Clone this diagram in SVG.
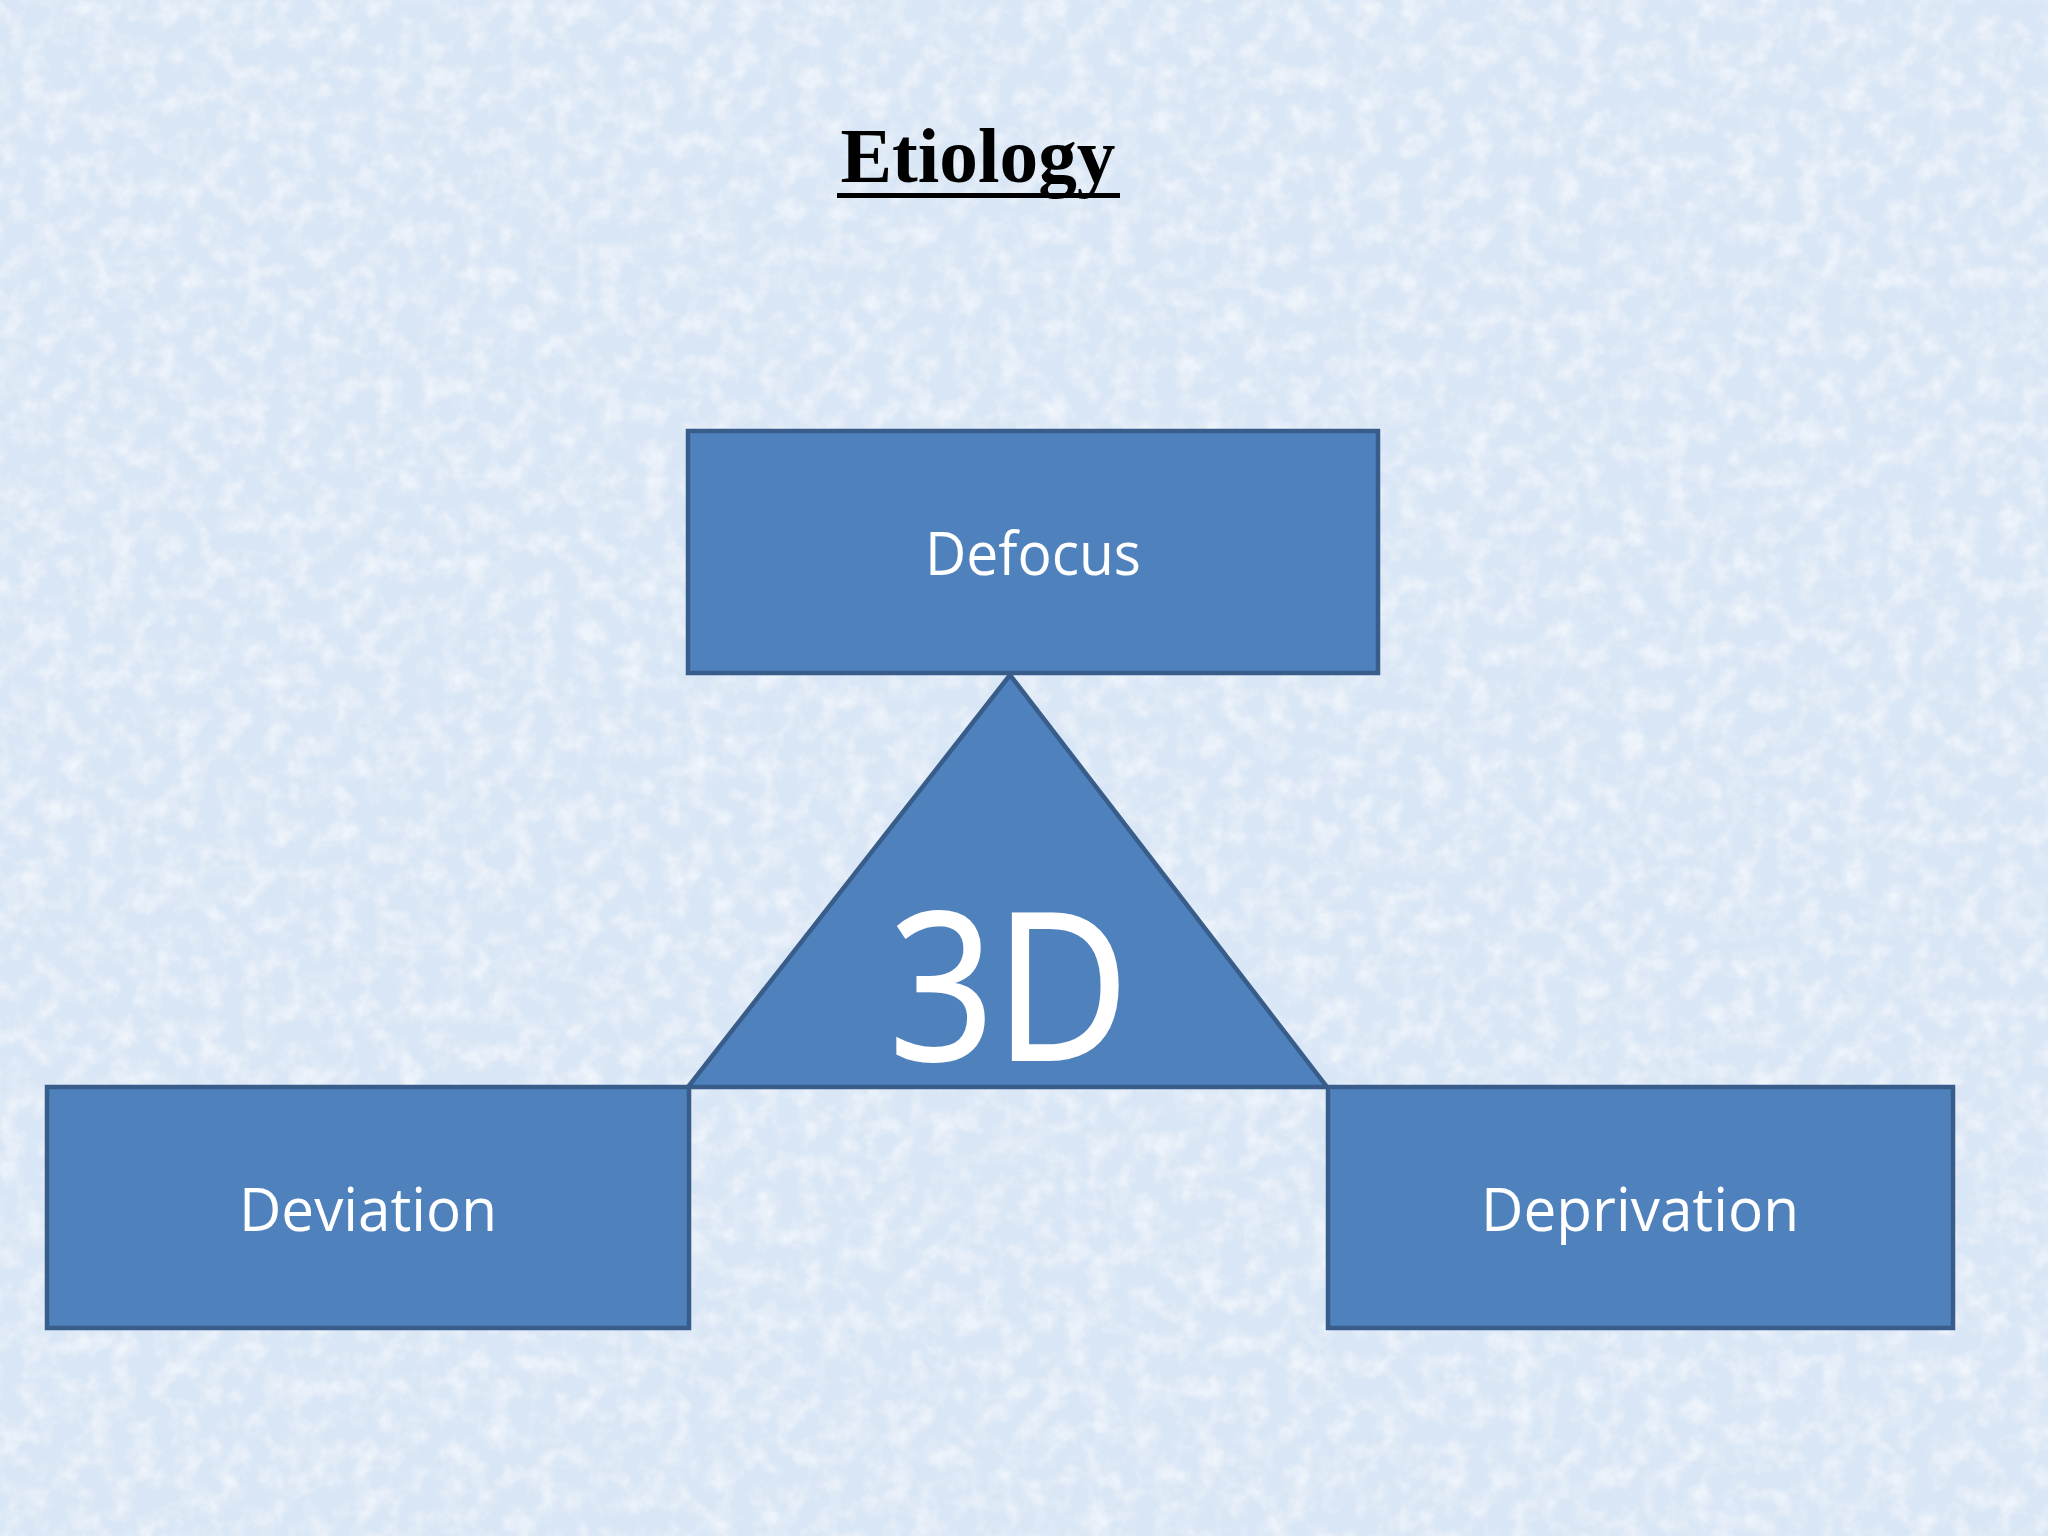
<svg xmlns="http://www.w3.org/2000/svg" width="2048" height="1536" viewBox="0 0 2048 1536">
  <defs>
    <filter id="tex" x="0" y="0" width="100%" height="100%">
      <feTurbulence type="fractalNoise" baseFrequency="0.045" numOctaves="4" seed="7" result="n"/>
      <feColorMatrix in="n" type="matrix" values="0 0 0 0 1  0 0 0 0 1  0 0 0 0 1  0 0 0 -2 1.2" result="w"/>
      <feComposite in="w" in2="SourceGraphic" operator="in"/>
    </filter>
    <style>
      .box { fill: #4F81BD; stroke: #385D8A; stroke-width: 4.5; }
      .lbl { font-family: "Open Sans", "Liberation Sans", sans-serif; font-size: 60px; fill: #FFFFFF; text-anchor: middle; }
      .big { font-family: "Open Sans", "Liberation Sans", sans-serif; font-size: 205px; fill: #FFFFFF; text-anchor: middle; stroke: #FFFFFF; stroke-width: 2; }
      .title { font-family: "Liberation Serif", "Times New Roman", serif; font-size: 78px; font-weight: bold; fill: #000000; text-anchor: middle; }
    </style>
  </defs>
  <rect width="2048" height="1536" fill="#d9e6f5"/>
  <rect width="2048" height="1536" fill="#eef4fb" filter="url(#tex)" opacity="0.6"/>

  <g id="title">
    <text class="title" x="978" y="182" textLength="275" lengthAdjust="spacingAndGlyphs">Etiology</text>
    <rect x="837" y="193" width="283" height="5" fill="#000000"/>
  </g>

  <g id="connectors"></g>

  <g id="triangle">
    <polygon class="box" points="1010,675 688,1087 1327,1087"/>
    <text class="big" x="1009" y="1060" textLength="240" lengthAdjust="spacingAndGlyphs">3D</text>
  </g>

  <g id="defocus">
    <rect class="box" x="688" y="431" width="690" height="242"/>
    <text class="lbl" x="1033" y="575" textLength="216" lengthAdjust="spacingAndGlyphs">Defocus</text>
  </g>

  <g id="deviation">
    <rect class="box" x="47" y="1087" width="642" height="241"/>
    <text class="lbl" x="368" y="1231" textLength="258" lengthAdjust="spacingAndGlyphs">Deviation</text>
  </g>

  <g id="deprivation">
    <rect class="box" x="1328" y="1087" width="625" height="241"/>
    <text class="lbl" x="1640" y="1231" textLength="318" lengthAdjust="spacingAndGlyphs">Deprivation</text>
  </g>
</svg>
